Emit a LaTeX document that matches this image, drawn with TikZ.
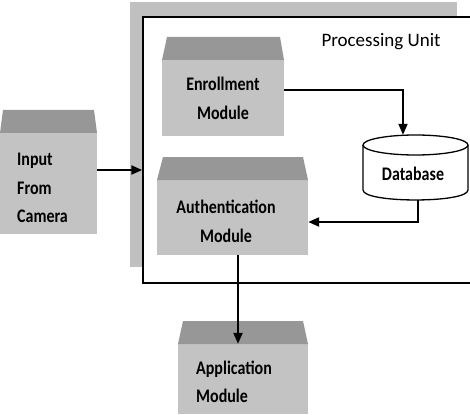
\documentclass[tikz,border=0pt]{standalone}
\usepackage{fontspec}
\usepackage{graphicx}
\setmainfont{Carlito}
\usetikzlibrary{arrows.meta}
\definecolor{boxfill}{HTML}{C3C3C3}
\definecolor{boxtop}{HTML}{979797}
\definecolor{shadowgray}{HTML}{C0C0C0}
\newcommand{\vst}[1]{\scalebox{1}[1.2]{#1}}
\tikzset{
  modbox/.style={rectangle, fill=boxfill, draw=none, inner sep=0pt},
  modtext/.style={font=\fontsize{16}{28.5}\selectfont\bfseries, inner sep=0pt},
  arr/.style={line width=2.2pt, -{Triangle[length=11pt,width=9pt]}},
}
\begin{document}
\begin{tikzpicture}[x=1pt,y=-1pt]
\useasboundingbox (0,0) rectangle (470,414);
\clip (0,0) rectangle (470,414);
% processing unit
\fill[shadowgray] (130,2) rectangle (457,267);
\node[rectangle, draw=black, line width=1.5pt, fill=white, minimum width=332pt, minimum height=266pt, inner sep=0pt] (pu) at (309,150) {};
\node[font=\fontsize{19}{22}\selectfont, anchor=center] (putext) at (381,42) {Processing Unit};
% input
\node[modbox, minimum width=97pt, minimum height=101pt] (inp) at (48.5,183.5) {};
\fill[boxtop] (0,133) -- (3,110) -- (94,110) -- (97,133) -- cycle;
\node[modtext, align=left, anchor=west] (inptext) at (17,188) {\vst{Input}\\\vst{From}\\\vst{Camera}};
% enrollment
\node[modbox, minimum width=122pt, minimum height=76pt] (enr) at (223,98) {};
\fill[boxtop] (162,60) -- (167,37) -- (280,37) -- (284,60) -- cycle;
\node[modtext, align=center] (enrtext) at (223,98.5) {\vst{Enrollment}\\\vst{Module}};
% authentication
\node[modbox, minimum width=151pt, minimum height=75pt] (auth) at (232.5,217.5) {};
\fill[boxtop] (157,180) -- (163,157) -- (303,157) -- (308,180) -- cycle;
\node[modtext, align=center] (authtext) at (226,221.5) {\vst{Authentication}\\\vst{Module}};
% application
\node[modbox, minimum width=130pt, minimum height=70pt] (app) at (243,379) {};
\fill[boxtop] (178,344) -- (183,321) -- (303,321) -- (308,344) -- cycle;
\node[modtext, align=left, anchor=west] (apptext) at (196,382) {\vst{Application}\\\vst{Module}};
% database
\node[rectangle, inner sep=0pt, minimum width=105pt, minimum height=65pt] (db) at (415.5,167.5) {};
\draw[line width=1.3pt, fill=white] (363,145) -- (363,190) .. controls (363,203.3) and (468,203.3) .. (468,190) -- (468,145);
\draw[line width=1.3pt, fill=white] (415.5,145) ellipse [x radius=52.5, y radius=10];
\node[modtext] (dbtext) at (413,174) {\vst{Database}};
% connectors
\coordinate (inA) at ([yshift=13.5pt]inp.east);
\draw[arr] (inA) -- (inA -| pu.west);
\coordinate (eA) at ([yshift=8pt]enr.east);
\coordinate (dbT) at ([xshift=-12.5pt]db.north);
\draw[arr, line width=1.8pt] (eA) -| (dbT);
\coordinate (dB) at ([xshift=2.5pt]db.south);
\coordinate (aE) at ([yshift=-4.5pt]auth.east);
\draw[arr] (dB) |- (aE);
\coordinate (aS) at ([xshift=5.5pt]auth.south);
\draw[arr] (aS) -- (aS |- app.north);
\end{tikzpicture}
\end{document}
